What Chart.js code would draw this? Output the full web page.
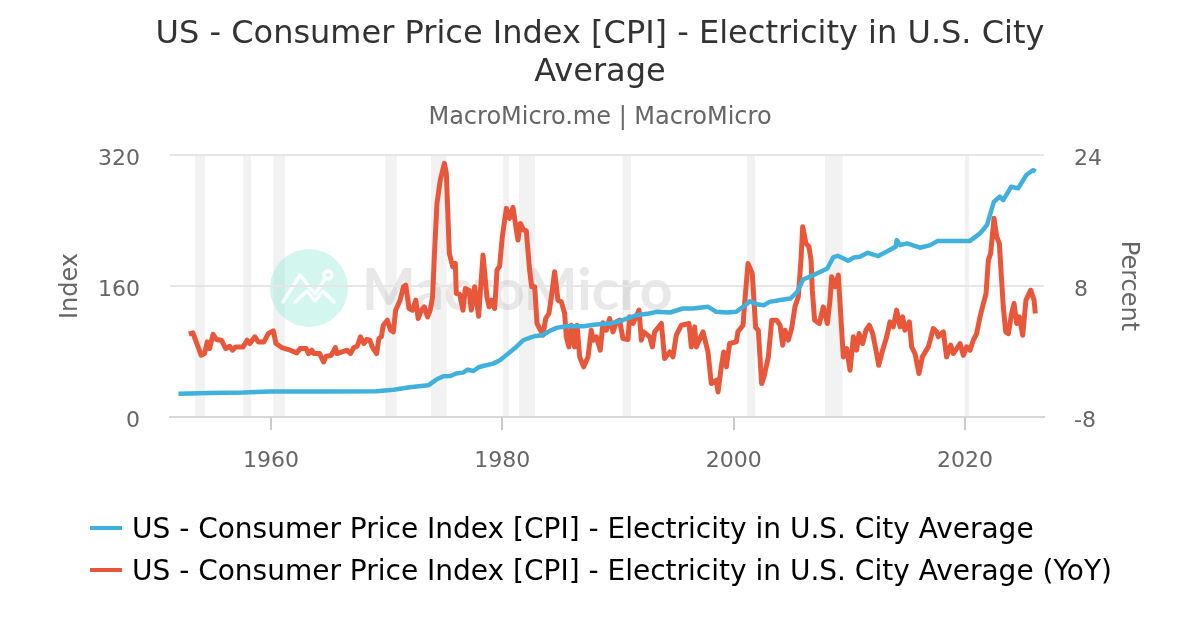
<!DOCTYPE html>
<html>
<head>
<meta charset="utf-8">
<title>US CPI Electricity</title>
<script src="https://cdn.jsdelivr.net/npm/chart.js@4"></script>
<style>
  html,body{margin:0;padding:0;background:#fff;}
  #wrap{position:relative;width:1200px;height:630px;overflow:hidden;}
  #chart{display:block;}
  #legend{position:absolute;left:90px;top:507px;font-family:"DejaVu Sans",sans-serif;font-size:28px;color:#000;}
  #legend .row{display:flex;align-items:center;height:42px;white-space:nowrap;}
  #legend .swatch{display:inline-block;width:32px;height:4px;margin-right:10px;}
</style>
</head>
<body>
<div id="wrap">
  <canvas id="chart" width="1200" height="630"></canvas>
  <div id="legend"></div>
</div>
<script>
const cpiName = 'US - Consumer Price Index [CPI] - Electricity in U.S. City Average';
const yoyName = 'US - Consumer Price Index [CPI] - Electricity in U.S. City Average (YoY)';

const cpiYears = [1952.0,1954.7,1957.6,1959.9,1964.5,1969.1,1970.6,1972.0,1973.6,1974.3,1974.9,1975.5,
  1976.0,1976.6,1977.0,1977.5,1978.0,1978.6,1979.2,1979.8,1980.5,1981.2,1981.8,1982.4,1982.9,1983.5,1984.1,1984.7,
  1985.5,1987.0,1988.1,1989.3,1990.4,1991.6,1992.7,1993.3,1994.5,1995.6,1996.5,1997.8,1998.5,1999.4,2000.2,
  2001.0,2001.4,2002.0,2002.6,2003.1,2004.3,2004.9,2005.5,2006.0,2006.7,2007.5,2008.1,2008.6,2009.0,2009.9,2010.4,2010.9,
  2011.6,2012.5,2013.2,2014.0,2014.1,2014.4,2015.0,2016.1,2017.0,2017.6,2018.7,2020.4,2021.3,2021.9,2022.5,2023.0,2023.3,
  2024.0,2024.6,2025.3,2025.9,2026.1];
const cpiValues = [28.5,29.3,29.8,31,31,31.4,33.4,36.3,38.7,45.7,49.7,50.1,
  53,54.2,57.9,56.2,61.1,63.2,65.2,69.3,77.4,85.6,93.7,97,99,99.9,105.2,108.8,
  110.9,110.9,112.9,114.1,118.2,124.3,126.4,128.4,127.6,132.5,132.5,134.5,128.4,127.6,128.4,
  136.5,141.4,137.8,136.5,140.6,143.5,144.7,152.9,167.9,172,177.3,181.4,194.8,196.9,190.8,194.8,195.6,
  200.5,196.5,201.8,207.9,216,209.9,212,206.7,209.9,214.8,214.8,214.8,224.2,234.4,262.9,269,264.9,
  281.2,279.2,295.5,301.6,299.6];

const yoyYears = [1952.9,1953.25,1953.54,1953.97,1954.26,1954.49,1954.7,1954.99,1955.28,1955.71,1956.09,1956.43,1956.67,1956.96,
  1957.59,1957.94,1958.17,1958.61,1958.9,1959.39,1959.77,1960.2,1960.43,1960.93,1961.51,1962.23,1962.52,1963.04,1963.25,1963.54,1963.68,
  1964.2,1964.55,1964.78,1965.19,1965.57,1965.71,1966.58,1966.87,1967.16,1967.45,1967.74,1968.03,1968.26,1968.55,1968.75,
  1969.13,1969.33,1969.54,1969.71,1970.06,1970.35,1970.58,1970.78,1971.16,1971.45,1971.65,1971.94,1972.23,1972.52,1972.72,
  1973.01,1973.25,1973.54,1973.77,1973.97,1974.12,1974.35,1974.64,1974.99,1975.16,1975.42,1975.71,1975.94,
  1976.02,1976.31,1976.6,1976.8,1977.12,1977.32,1977.61,1977.95,1978.33,1978.67,1978.85,1979.05,1979.34,1979.54,1979.77,
  1980,1980.35,1980.63,1980.92,1981.35,1981.56,1981.84,1982.07,1982.36,1982.54,1982.8,1983,1983.52,1983.75,1984.03,1984.24,1984.52,1984.81,
  1985.1,1985.39,1985.53,1985.76,1985.97,1986.25,1986.46,1986.69,1987.03,1987.41,1987.69,1987.84,1988.13,1988.47,1988.7,1988.99,
  1989.28,1989.57,1989.86,1990.14,1990.43,1990.86,1991.01,1991.3,1991.82,1992.02,1992.22,1992.74,1992.97,1993.17,1993.75,
  1994.03,1994.47,1994.75,1995.04,1995.48,1996.14,1996.34,1996.63,1996.77,1997.35,1997.78,1998.07,1998.5,1998.65,1998.93,
  1999.14,1999.37,1999.65,2000.23,2000.37,2000.81,2000.95,2001.24,
  2001.61,2001.9,2002.13,2002.33,2002.42,2002.62,2003,2003.29,2003.72,2004.01,2004.24,2004.44,2004.73,2005.01,2005.3,2005.59,2005.82,2005.97,
  2006.25,2006.51,2006.69,2006.8,2007,2007.41,2007.75,2008.1,2008.33,2008.47,2008.76,2009.05,2009.25,2009.48,2009.77,2010.06,2010.35,2010.63,2010.84,
  2011.15,2011.44,2011.73,2012.02,2012.36,2012.54,2012.88,2013.23,2013.52,2013.8,2014.09,2014.38,2014.61,2014.81,2015.19,2015.39,2015.68,
  2016.02,2016.31,2016.83,2017.26,2017.55,2017.69,2018.13,2018.41,2018.76,2018.99,2019.57,2019.86,2020.14,2020.43,2020.72,2021.01,2021.3,2021.59,2021.82,
  2022.02,2022.22,2022.51,2022.74,2022.97,2023.31,2023.52,2023.75,2024.03,2024.24,2024.47,2024.7,2024.99,2025.27,2025.68,2025.97,2026.08];
const yoyValues = [2.11,2.27,1.17,-0.46,-0.25,1.17,0.36,2.11,1.46,1.38,0.36,0.64,0.16,0.56,
  0.56,1.38,0.97,1.79,1.17,1.17,2.19,2.52,0.97,0.48,0.24,-0.17,0.36,0.36,-0.25,0.16,-0.25,
  -0.25,-1.27,-0.58,-0.5,0.48,-0.25,0.16,-0.25,0.48,0.64,1.79,0.97,1.46,1.38,0.56,
  -0.25,1.58,1.79,3.21,3.82,2.6,2.4,5.05,6.27,7.9,8.1,5.25,5.05,6.27,4.03,
  5.05,5.45,4.23,5.05,6.68,11.57,18.09,20.94,22.98,21.76,11.98,10.35,10.75,
  7.08,7,5.05,7.7,7.49,5.05,7.9,4.31,11.77,6.68,5.45,6.27,5.25,9.94,10.43,
  14.01,17.48,16.26,17.6,13.61,15.64,14.83,14.75,9.94,7.9,7.9,3.42,1.99,4.03,4.64,6.68,9.73,6.27,
  6.07,4.64,1.79,0.56,3.21,0.56,3.21,-0.66,-1.88,-0.66,2.6,1.38,1.79,0.16,3.5,2.6,
  4.03,2.4,3.62,3.82,1.58,1.46,4.23,3.42,5.05,1.38,2.4,1.79,0.56,2.4,3.42,
  -0.86,-0.05,-0.66,1.99,3.21,3.42,0.56,3.01,0.56,2.4,-0.05,-3.92,-3.51,-4.94,-1.88,
  -0.05,-1.88,0.97,1.17,2.4,3.21,5.86,10.75,
  9.53,2.93,2.6,-1.88,-3.92,-3.11,-0.66,3.82,3.82,3.21,0.77,2.6,1.38,2.8,5.45,6.68,11.16,15.24,
  13.2,12.79,11.16,7.49,3.82,3.42,5.45,3.42,6.27,9.12,7.9,9.33,4.64,-0.66,0.36,-2.29,1.79,0.16,2.19,
  0.97,2.6,3.21,2.19,-0.25,-1.68,0.16,1.79,3.62,3.01,5.05,3.01,4.23,2.6,3.62,0.56,-0.25,
  -2.7,-0.66,0.56,2.8,2.4,1.79,2.4,-0.66,0.77,-0.25,0.97,-0.46,0.56,0.16,1.38,2.19,4.23,5.86,7.08,
  11.16,11.98,16.26,14.01,13.2,5.45,2.4,2.19,4.64,5.86,3.42,4.23,1.99,6.27,7.49,6.27,4.64];

// shaded recession periods, in years
const bandStarts = [1953.45,1957.6,1960.2,1969.88,1973.83,1980.08,1981.44,1990.4,2001.15,2007.9,2020.0];
const bandEnds = [1954.3,1958.27,1961.2,1970.87,1975.19,1980.58,1982.82,1991.12,2001.84,2009.43,2020.36];

const yearTicks = [1960,1980,2000,2020];
const indexTicks = [0,160,320];
const percentTicks = [-8,8,24];

const TICK_FONT = {family:'"DejaVu Sans"', size:22};
const AXIS_FONT = {family:'"DejaVu Sans"', size:24};
const GREY = '#666666';

function toPoints(xs, ys){
  return xs.map((x,i)=>({x:x, y:ys[i]}));
}

const backdrop = {
  id:'backdrop',
  beforeDraw(chart){
    const {ctx, chartArea, scales} = chart;
    ctx.save();
    ctx.fillStyle = '#f2f2f2';
    bandStarts.forEach((start,i)=>{
      const x0 = scales.x.getPixelForValue(start);
      const x1 = scales.x.getPixelForValue(bandEnds[i]);
      ctx.fillRect(x0, chartArea.top, x1-x0, chartArea.bottom-chartArea.top);
    });

    // brand mark behind the lines
    const cx = 309, cy = 288;
    ctx.fillStyle = 'rgba(108,225,202,0.3)';
    ctx.beginPath();
    ctx.arc(cx, cy, 39, 0, Math.PI*2);
    ctx.fill();
    ctx.strokeStyle = 'rgba(255,255,255,0.95)';
    ctx.lineWidth = 3.5;
    ctx.lineCap = 'round';
    ctx.lineJoin = 'round';
    ctx.beginPath();
    ctx.moveTo(cx-26,cy+14); ctx.lineTo(cx-9,cy-13); ctx.lineTo(cx+6,cy+6); ctx.lineTo(cx+16,cy-9);
    ctx.moveTo(cx-14,cy+14); ctx.lineTo(cx-2,cy+3); ctx.lineTo(cx+6,cy+13); ctx.lineTo(cx+14,cy+3); ctx.lineTo(cx+25,cy+14);
    ctx.stroke();
    ctx.beginPath();
    ctx.arc(cx+19, cy-13, 4, 0, Math.PI*2);
    ctx.stroke();

    ctx.fillStyle = 'rgba(120,120,120,0.17)';
    ctx.font = 'bold 57px Lato';
    ctx.textBaseline = 'alphabetic';
    ctx.textAlign = 'left';
    ctx.fillText('MacroMicro', 362, 310);
    ctx.restore();
  }
};

const chart = new Chart(document.getElementById('chart'),{
  type:'line',
  plugins:[backdrop],
  data:{datasets:[
    {label:cpiName, data:toPoints(cpiYears,cpiValues), yAxisID:'y', borderColor:'#3fb1dc', backgroundColor:'#3fb1dc', borderWidth:4.5, borderJoinStyle:'round', pointRadius:0, tension:0},
    {label:yoyName, data:toPoints(yoyYears,yoyValues), yAxisID:'y1', borderColor:'#e9573b', backgroundColor:'#e9573b', borderWidth:5, borderJoinStyle:'round', pointRadius:0, tension:0}
  ]},
  options:{
    responsive:false,
    animation:false,
    devicePixelRatio:1,
    layout:{padding:{top:16,left:50,right:50,bottom:155}},
    plugins:{
      legend:{display:false},
      tooltip:{enabled:false},
      title:{
        display:true,
        text:['US - Consumer Price Index [CPI] - Electricity in U.S. City','Average'],
        color:'#333333',
        font:{family:'"DejaVu Sans"', size:32, weight:'normal', lineHeight:1.19},
        padding:{top:0,bottom:11}
      },
      subtitle:{
        display:true,
        text:'MacroMicro.me | MacroMicro',
        color:GREY,
        font:{family:'"DejaVu Sans"', size:24, weight:'normal'},
        padding:{top:0,bottom:23}
      }
    },
    scales:{
      x:{
        type:'linear',
        min:1951.27,
        max:2026.83,
        afterBuildTicks(axis){ axis.ticks = yearTicks.map(v=>({value:v})); },
        afterFit(axis){ axis.height = 58; },
        grid:{drawOnChartArea:false, drawTicks:true, tickLength:13, tickColor:'#cccccc', lineWidth:2},
        border:{color:'#d8d8d8', width:2},
        ticks:{color:GREY, font:TICK_FONT, padding:18, maxRotation:0, callback:v=>String(v)}
      },
      y:{
        position:'left',
        min:0,
        max:320,
        afterBuildTicks(axis){ axis.ticks = indexTicks.map(v=>({value:v})); },
        afterFit(axis){ axis.width = 120; },
        grid:{color:'#e6e6e6', lineWidth:2, drawTicks:false},
        border:{display:false},
        ticks:{color:GREY, font:TICK_FONT, padding:30, labelOffset:4},
        title:{display:true, text:'Index', color:GREY, font:AXIS_FONT, padding:{top:6,bottom:0}}
      },
      y1:{
        position:'right',
        min:-8,
        max:24,
        afterBuildTicks(axis){ axis.ticks = percentTicks.map(v=>({value:v})); },
        afterFit(axis){ axis.width = 106; },
        grid:{drawOnChartArea:false, drawTicks:false},
        border:{display:false},
        ticks:{color:GREY, font:TICK_FONT, padding:30, labelOffset:4},
        title:{display:true, text:'Percent', color:GREY, font:AXIS_FONT, padding:{top:7,bottom:0}}
      }
    }
  }
});

// two-row legend under the plot
const legendEl = document.getElementById('legend');
chart.data.datasets.forEach(ds=>{
  const row = document.createElement('div');
  row.className = 'row';
  const swatch = document.createElement('span');
  swatch.className = 'swatch';
  swatch.style.background = ds.borderColor;
  const label = document.createElement('span');
  label.textContent = ds.label;
  row.appendChild(swatch);
  row.appendChild(label);
  legendEl.appendChild(row);
});
</script>
</body>
</html>
